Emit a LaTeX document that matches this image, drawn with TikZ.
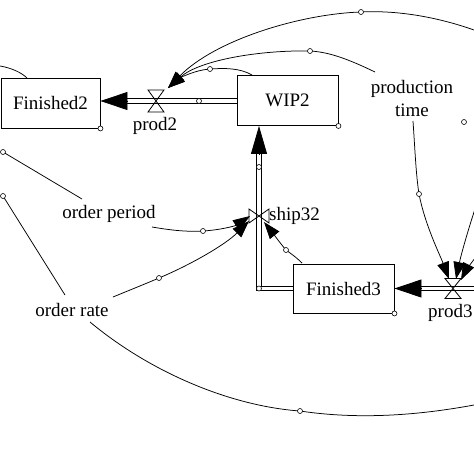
\documentclass[tikz,border=0pt]{standalone}
\usepackage{fontspec}
\setmainfont{Liberation Serif}
\usetikzlibrary{arrows.meta,calc}
\begin{document}
\begin{tikzpicture}[x=1pt,y=-1pt,
  box/.style={draw, line width=0.9pt, rectangle, inner sep=0pt, font=\fontsize{19}{22}\selectfont},
  lbl/.style={inner sep=0pt, font=\fontsize{19}{23}\selectfont},
  dot/.style={circle, draw, fill=white, inner sep=0pt, minimum size=5pt, line width=0.6pt},
  pipe/.style={draw, double=white, double distance=3.6pt, line width=0.8pt},
  flowtip/.style={-{Triangle[length=27pt,width=18pt]}, line width=0.8pt},
  conn/.style={line width=0.75pt, -{Triangle[length=17pt,width=12pt]}},
  link/.style={line width=0.75pt},
  valve/.style={line width=0.8pt}]
\useasboundingbox (0,0) rectangle (474,474);
\clip (0,0) rectangle (474,474);

% stocks
\node[box, minimum width=99pt, minimum height=50pt] (F2) at (50.5,103) {Finished2};
\node[box, minimum width=101pt, minimum height=50pt] (W2) at (287.5,100.5) {WIP2};
\node[box, minimum width=101pt, minimum height=49pt] (F3) at (343.5,288.5) {Finished3};

% valve centres
\coordinate (v2) at (156,101);
\coordinate (vs) at (259,216);
\coordinate (v3) at (453,288.5);
\coordinate (corner) at (259,288.5);
\coordinate (rin) at (484,288.5);

% flows
\draw[pipe] (W2.west |- v2) -- ($(F2.east |- v2)+(27,0)$);
\draw[flowtip] ($(F2.east |- v2)+(27,0)$) -- (F2.east |- v2);
\draw[pipe] (F3.west) -- (corner) -- ($(W2.south -| vs)+(0,28)$);
\draw[-{Triangle[length=28pt,width=16pt]}, line width=0.8pt] ($(W2.south -| vs)+(0,28)$) -- (W2.south -| vs);
\draw[pipe] (rin) -- ($(F3.east)+(27,0)$);
\draw[flowtip] ($(F3.east)+(27,0)$) -- (F3.east);

% valves
\draw[valve] ($(v2)+(-8,-11)$) -- ++(16,0) -- ++(-16,22) -- ++(16,0) -- cycle;
\draw[valve] ($(vs)+(-10,-7)$) -- ++(0,14) -- ++(20,-14) -- ++(0,14) -- cycle;
\draw[valve] ($(v3)+(-8,-10)$) -- ++(16,0) -- ++(-16,20) -- ++(16,0) -- cycle;

% labels
\node[lbl] (lp2) at (155,126) {prod2};
\node[lbl, anchor=west] (ls) at (269,216) {ship32};
\node[lbl, anchor=west] (lp3) at (428,313) {prod3};
\node[lbl] (lop) at (109,214) {order period};
\node[lbl] (lor) at (72,310) {order rate};
\node[lbl, align=center] (lpt) at (412,98) {production\\time};

% connector anchor points
\coordinate (topR) at (474,30);
\coordinate (c1) at (361,12);
\coordinate (p2tip) at (168,88);
\coordinate (ptA) at (375,72);
\coordinate (c2) at (310,51);
\coordinate (w2A) at (252,75);
\coordinate (c3) at (210,69);
\coordinate (leftA) at (0,66);
\coordinate (f2top) at (27,78);
\coordinate (c4) at (3,152);
\coordinate (opA) at (82,199);
\coordinate (c5) at (3,196);
\coordinate (orA) at (65,295);
\coordinate (opB) at (152,227);
\coordinate (c6) at (203,231);
\coordinate (stip1) at (250,216);
\coordinate (orB) at (113,297);
\coordinate (c7) at (159,278);
\coordinate (stip2) at (249,221);
\coordinate (f3top) at (302,263);
\coordinate (c8) at (286,250);
\coordinate (stip3) at (264,222);
\coordinate (ptB) at (413,121);
\coordinate (c9) at (419,194);
\coordinate (p3tip1) at (449,279);
\coordinate (rA) at (476,206);
\coordinate (p3tip2) at (456,279);
\coordinate (rB) at (478,254);
\coordinate (p3tip3) at (461,280);
\coordinate (c10) at (464,122);
\coordinate (orC) at (90,322);
\coordinate (c11) at (300,411);
\coordinate (botR) at (474,405);

% connectors
\draw[conn] (topR) .. controls (440,18) and (400,10) .. (c1) .. controls (300,14) and (215,40) .. (p2tip);
\draw[conn] (ptA) .. controls (350,60) and (330,52) .. (c2) .. controls (260,50) and (200,60) .. (p2tip);
\draw[conn] (w2A) .. controls (240,68) and (225,68) .. (c3) .. controls (195,70) and (180,78) .. (p2tip);
\draw[link] (leftA) .. controls (12,68) and (22,73) .. (f2top);
\draw[link] (c4) -- (opA);
\draw[link] (c5) -- (orA);
\draw[conn] (opB) .. controls (170,230) and (185,232) .. (c6) .. controls (220,230) and (235,226) .. (stip1);
\draw[conn] (orB) .. controls (130,290) and (145,284) .. (c7) .. controls (190,265) and (225,245) .. (stip2);
\draw[conn] (f3top) .. controls (296,257) and (290,253) .. (c8) .. controls (280,243) and (272,232) .. (stip3);
\draw[conn] (ptB) .. controls (415,150) and (416,175) .. (c9) .. controls (425,225) and (440,255) .. (p3tip1);
\draw[conn] (rA) .. controls (468,230) and (461,255) .. (p3tip2);
\draw[conn] (rB) .. controls (472,262) and (465,272) .. (p3tip3);
\draw[link] (orC) .. controls (150,372) and (230,406) .. (c11) .. controls (360,420) and (420,415) .. (botR);

% small circles
\foreach \c in {c1,c2,c3,c4,c5,c6,c7,c8,c9,c10,c11}
  \node[dot] (d\c) at (\c) {};
\node[dot] (dF2) at (F2.south east) {};
\node[dot] (dW2) at (W2.south east) {};
\node[dot] (dF3) at (F3.south east) {};
\node[dot] (dp2) at (199,101) {};
\node[dot] (dsh) at (259,167) {};
\node[dot] (dco) at (corner) {};
\end{tikzpicture}
\end{document}
